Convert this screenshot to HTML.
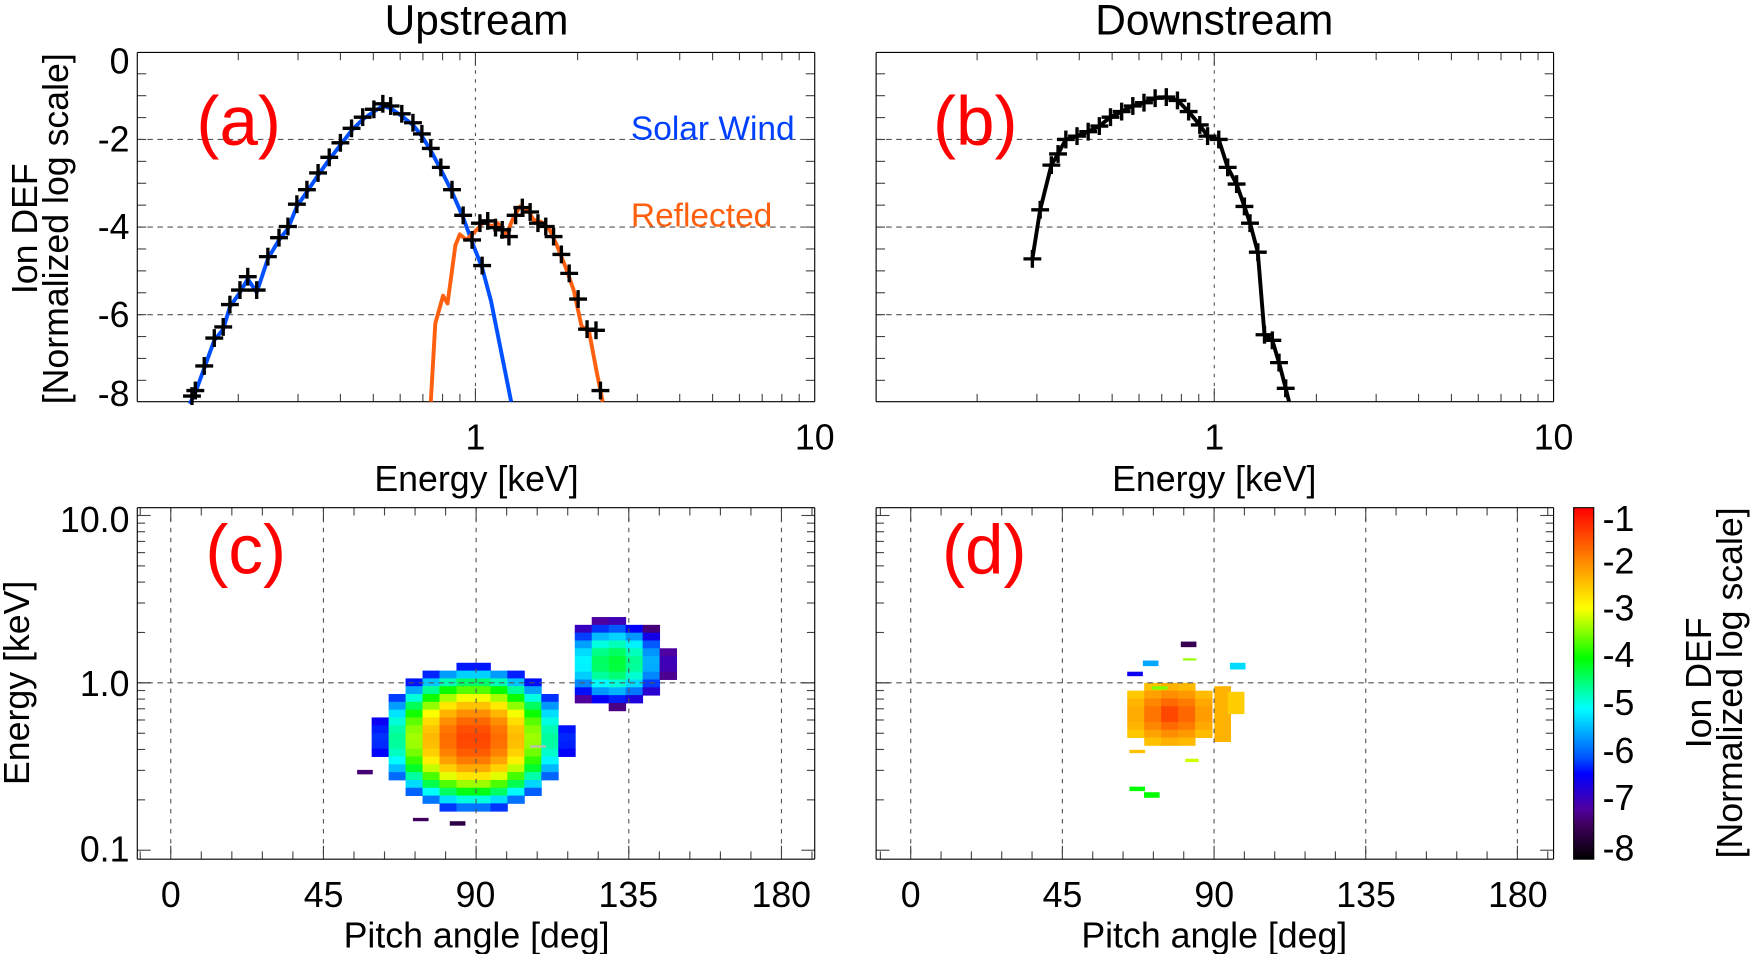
<!DOCTYPE html>
<html><head><meta charset="utf-8"><style>
html,body{margin:0;padding:0;background:#fff;}
svg{display:block;font-family:"Liberation Sans",Arial,sans-serif;}
</style></head><body>
<svg id="s" width="1750" height="954" viewBox="0 0 1568 855" preserveAspectRatio="none" xmlns="http://www.w3.org/2000/svg">
<defs>
<linearGradient id="cb" x1="0" y1="1" x2="0" y2="0">
<stop offset="0" stop-color="#000000"/><stop offset="0.1" stop-color="#400060"/><stop offset="0.143" stop-color="#5000a0"/>
<stop offset="0.243" stop-color="#0000ff"/><stop offset="0.286" stop-color="#0050ff"/><stop offset="0.429" stop-color="#00ffff"/>
<stop offset="0.571" stop-color="#00ff00"/><stop offset="0.714" stop-color="#ffff00"/><stop offset="0.786" stop-color="#ffc000"/>
<stop offset="0.857" stop-color="#ff8000"/><stop offset="0.929" stop-color="#ff4000"/><stop offset="1" stop-color="#ff0000"/>
</linearGradient>
</defs>
<g font-size="38" text-anchor="middle"><text x="427" y="31">Upstream</text><text x="1088" y="31">Downstream</text></g>
<g id="g"></g>
<g font-size="32" text-anchor="middle">
<text x="426" y="403">1</text><text x="730" y="403">10</text><text x="427" y="440">Energy [keV]</text>
<text x="1088" y="403">1</text><text x="1392" y="403">10</text><text x="1088" y="440">Energy [keV]</text>
<text x="153" y="813">0</text><text x="290" y="813">45</text><text x="426" y="813">90</text><text x="563" y="813">135</text><text x="700" y="813">180</text>
<text x="427" y="849">Pitch angle [deg]</text>
<text x="816" y="813">0</text><text x="952" y="813">45</text><text x="1088" y="813">90</text><text x="1224" y="813">135</text><text x="1360" y="813">180</text>
<text x="1088" y="849">Pitch angle [deg]</text>
</g>
<g font-size="32" text-anchor="end">
<text x="116" y="66">0</text><text x="116" y="136">-2</text><text x="116" y="214">-4</text><text x="116" y="293">-6</text><text x="116" y="364">-8</text>
<text x="116" y="477">10.0</text><text x="116" y="624">1.0</text><text x="116" y="772">0.1</text>
</g>
<g font-size="32" text-anchor="middle">
<text transform="translate(33,205) rotate(-90)">Ion DEF</text>
<text transform="translate(61,205) rotate(-90)">[Normalized log scale]</text>
<text transform="translate(26,612) rotate(-90)">Energy [keV]</text>
<text transform="translate(1533,612) rotate(-90)">Ion DEF</text>
<text transform="translate(1561,612) rotate(-90)">[Normalized log scale]</text>
</g>
<g font-size="32" text-anchor="start">
<text x="1436" y="476">-1</text><text x="1436" y="514">-2</text><text x="1436" y="556">-3</text><text x="1436" y="598">-4</text>
<text x="1436" y="641">-5</text><text x="1436" y="684">-6</text><text x="1436" y="726">-7</text><text x="1436" y="771">-8</text>
</g>
<rect x="1410" y="455" width="18" height="315" fill="url(#cb)"/>
<rect x="1410" y="455" width="18" height="315" fill="none" stroke="#000" stroke-width="1"/>
<g font-size="62" fill="#f00">
<text x="176" y="130">(a)</text><text x="836" y="130">(b)</text><text x="184" y="514">(c)</text><text x="844" y="514">(d)</text>
</g>
<text x="712" y="125" font-size="30" fill="#0040ff" text-anchor="end">Solar Wind</text>
<text x="692" y="203" font-size="30" fill="#ff6010" text-anchor="end">Reflected</text>
</svg>
<script>
var g=document.getElementById('g'),h='';
function L(x1,y1,x2,y2,c,w,d){h+='<line x1="'+x1+'" y1="'+y1+'" x2="'+x2+'" y2="'+y2+'" stroke="'+(c||'#000')+'" stroke-width="'+(w||1)+'"'+(d?' stroke-dasharray="'+d+'"':'')+'/>';}
function R(x,y,w,hh,c){h+='<rect x="'+x.toFixed(1)+'" y="'+y.toFixed(1)+'" width="'+w.toFixed(1)+'" height="'+hh.toFixed(1)+'" fill="'+c+'"/>';}
function P(pts,c,w){h+='<polyline fill="none" stroke="'+c+'" stroke-width="'+w+'" stroke-linejoin="round" points="'+pts.map(function(p){return p[0]+','+p[1]}).join(' ')+'"/>';}
function X(x,y){L(x-8,y,x+8,y,'#000',3);L(x,y-8,x,y+8,'#000',3);}
var st=[[-8,[0,0,0]],[-7.3,[64,0,96]],[-7,[80,0,160]],[-6.3,[0,0,255]],[-6,[0,80,255]],[-5,[0,255,255]],[-4,[0,255,0]],[-3,[255,255,0]],[-2.5,[255,192,0]],[-2,[255,128,0]],[-1.5,[255,64,0]],[-1,[255,0,0]]];
function col(v){if(v<=-8)return 'rgb(0,0,0)';if(v>=-1)return 'rgb(255,0,0)';for(var i=0;i<st.length-1;i++){var a=st[i],b=st[i+1];if(v>=a[0]&&v<=b[0]){var t=(v-a[0])/(b[0]-a[0]);return 'rgb('+[0,1,2].map(function(k){return Math.round(a[1][k]+t*(b[1][k]-a[1][k]))}).join(',')+')';}}}
function blob(cx,cy,rx,ry,x0,x1,y0,y1,f){for(var x=x0;x<x1;x+=15.2){for(var y=y0;y<y1;y+=7){var dx=(x+7.6-cx)/rx,dy=(y+3.5-cy)/ry,r=Math.sqrt(dx*dx+dy*dy);if(r<1)R(x,y,15.6,7.4,col(f(r)));}}}
blob(424,662,86,66,333,505,594,740,function(r){return -1.5-4.9*r*r;});
blob(550,594,52,40,515,612,553,640,function(r){return -4.2-3.0*r*r;});
blob(1050,640,42,30,1010,1095,605,675,function(r){return -1.4-1.2*r;});
R(1088,615,15,50,col(-2.4));R(1100,620,15,20,col(-2.6));
R(320,690,14,4,col(-7.2));R(475,668,14,2,'#bbb');R(403,736,14,4,col(-7.5));R(370,733,14,3,col(-7.3));
R(1010,602,14,4,col(-6.4));R(1024,592,14,5,col(-5.5));R(1058,575,14,5,col(-7.4));R(1102,594,14,6,col(-5.2));
R(1032,615,14,3,col(-3.5));R(1060,590,12,2,col(-3.4));R(1012,672,14,3,col(-2.5));R(1062,680,12,3,col(-3.2));
R(1012,705,14,4,col(-4));R(1025,710,14,5,col(-4));
function frame(x0,y0,x1,y1){L(x0,y0,x1,y0);L(x0,y1,x1,y1);L(x0,y0,x0,y1);L(x1,y0,x1,y1);}
[[123,426],[785,1088]].forEach(function(p){var x0=p[0],x1=x0+607,c=p[1];
 [-2,-4,-6].forEach(function(v){var y=46.5-v*39.25;L(x0,y,x1,y,'#555',1,'5,4');});
 L(c,47,c,360,'#555',1,'3,5');
 for(var v=-0.5;v>-8;v-=0.5){var y=46.5-v*39.25;L(x0,y,x0+8,y,'#444');L(x1-8,y,x1,y,'#444');}
 for(var d=0;d<2;d++)for(var k=2;k<=10;k++){var x=c+(d-1)*304+Math.log10(k)*304;if(x>x0&&x<x1){var l=k==10?12:7;L(x,360,x,360-l,'#444');L(x,47,x,47+l,'#444');}}
 frame(x0,47,x1,360);});
[[123,153,3.04],[785,816,3.02]].forEach(function(p){var x0=p[0],x1=x0+607,z=p[1],s=p[2];
 [0,45,90,135,180].forEach(function(a){L(z+a*s,455,z+a*s,770,'#555',1,'4,5');});
 L(x0,612,x1,612,'#555',1,'5,4');
 for(var a=-9;a<=189;a+=9){var x=z+a*s;if(x>x0&&x<x1){var l=a%45==0?12:7;L(x,770,x,770-l,'#444');L(x,455,x,455+l,'#444');}}
 for(var d=-1;d<1;d++)for(var k=1;k<=10;k++){var y=612-d*150-Math.log10(k)*150;if(y>455&&y<770){var l=(k==1||k==10)?12:7;L(x0,y,x0+l,y,'#444');L(x1-l,y,x1,y,'#444');}}
 frame(x0,455,x1,770);});
var blue=[[170,362],[175,352],[183,330],[192,305],[200,295],[206,275],[215,262],[222,250],[230,262],[240,232],[250,215],[258,205],[266,185],[275,172],[285,157],[295,143],[305,130],[315,117],[325,107],[335,100],[343,95],[350,97],[360,104],[370,112],[378,122],[386,135],[395,152],[405,172],[415,195],[423,217],[432,240],[440,270],[448,310],[455,345],[458,360]];
var orng=[[386,360],[390,290],[397,265],[401,272],[408,220],[412,210],[418,215],[428,205],[434,198],[440,203],[446,200],[453,212],[460,195],[466,185],[473,188],[478,197],[485,199],[492,205],[499,220],[507,240],[514,260],[521,292],[528,298],[534,330],[540,360]];
P(blue,'#0050ff',3.5);P(orng,'#ff6010',3.5);
blue.slice(0,31).forEach(function(q){if(q[1]<358)X(q[0],q[1]-2);});
[[430,200],[437,198],[444,204],[450,206],[456,212],[462,193],[468,186],[475,190],[482,200],[489,203],[496,212],[503,228],[510,245],[518,268],[526,295],[534,296],[538,350]].forEach(function(q){X(q[0],q[1]);});
X(172,355);
var blk=[[925,232],[932,188],[942,148],[948,138],[955,125],[965,122],[975,118],[985,113],[995,105],[1005,100],[1015,95],[1025,92],[1035,88],[1045,87],[1055,90],[1065,100],[1075,112],[1082,122],[1092,125],[1100,150],[1108,165],[1115,185],[1120,200],[1127,226],[1133,300],[1140,305],[1146,325],[1152,348],[1155,360]];
P(blk,'#000',3.5);blk.forEach(function(q){if(q[1]<358)X(q[0],q[1]);});
g.innerHTML=h;
</script>
</body></html>
